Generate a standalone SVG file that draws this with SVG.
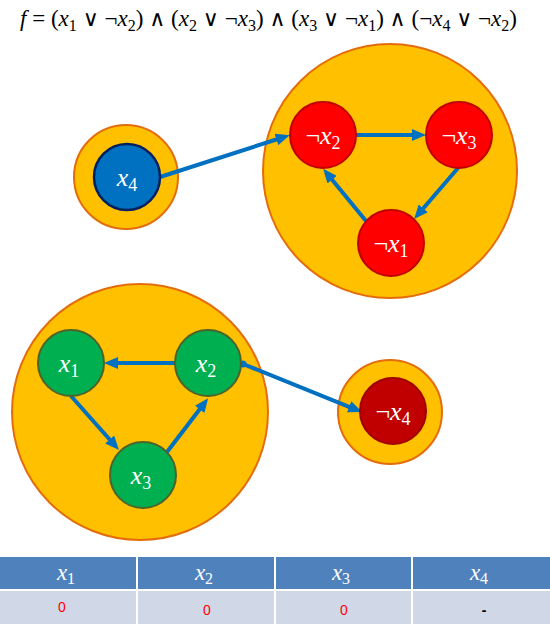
<svg xmlns="http://www.w3.org/2000/svg" width="550" height="632" viewBox="0 0 550 632">
<defs>
<style>
.t{font-family:"Liberation Serif","DejaVu Serif",serif;fill:#000}
.i{font-style:italic}
.lbl{font-family:"Liberation Serif","DejaVu Serif",serif;fill:#fff;font-size:26px;text-anchor:middle}
.comp{fill:#FFC000;stroke:#E46C0A;stroke-width:2}
.red{fill:#FF0000;stroke:#C00000;stroke-width:2}
.green{fill:#00B050;stroke:#4F6228;stroke-width:2}
.blue{fill:#0070C0;stroke:#002060;stroke-width:2.5}
.dred{fill:#C00000;stroke:#A00000;stroke-width:2}
.arr{stroke:#0070C0;stroke-width:4;fill:none;marker-end:url(#ah)}
.hd{fill:#4F81BD}
.rw{fill:#D0D8E8}
.hl{font-family:"Liberation Serif","DejaVu Serif",serif;fill:#fff;font-size:23px;text-anchor:middle;font-style:italic}
.v{font-family:"Liberation Sans","DejaVu Sans",sans-serif;font-size:14px;text-anchor:middle;fill:#FF0000}
.op{font-family:"DejaVu Serif",serif;font-size:22px}
</style>
<marker id="ah" markerUnits="userSpaceOnUse" markerWidth="14" markerHeight="12" refX="8" refY="6" orient="auto">
<path d="M0,0 L14,6 L0,12 z" fill="#0070C0"/>
</marker>
<marker id="dot" markerUnits="userSpaceOnUse" markerWidth="8" markerHeight="8" refX="4" refY="4" orient="auto">
<circle cx="4" cy="4" r="3.5" fill="#0070C0"/>
</marker>
</defs>

<text class="t" x="20" y="26" font-size="23" textLength="497" lengthAdjust="spacing"><tspan class="i">f</tspan> = (<tspan class="i">x</tspan><tspan font-size="16" dy="5">1</tspan><tspan dy="-5"> </tspan><tspan class="op">∨</tspan> ¬<tspan class="i">x</tspan><tspan font-size="16" dy="5">2</tspan><tspan dy="-5">) </tspan><tspan class="op">∧</tspan> (<tspan class="i">x</tspan><tspan font-size="16" dy="5">2</tspan><tspan dy="-5"> </tspan><tspan class="op">∨</tspan> ¬<tspan class="i">x</tspan><tspan font-size="16" dy="5">3</tspan><tspan dy="-5">) </tspan><tspan class="op">∧</tspan> (<tspan class="i">x</tspan><tspan font-size="16" dy="5">3</tspan><tspan dy="-5"> </tspan><tspan class="op">∨</tspan> ¬<tspan class="i">x</tspan><tspan font-size="16" dy="5">1</tspan><tspan dy="-5">) </tspan><tspan class="op">∧</tspan> (¬<tspan class="i">x</tspan><tspan font-size="16" dy="5">4</tspan><tspan dy="-5"> </tspan><tspan class="op">∨</tspan> ¬<tspan class="i">x</tspan><tspan font-size="16" dy="5">2</tspan><tspan dy="-5">)</tspan></text>

<g id="comp-x4"><circle class="comp" cx="126" cy="177" r="52"/></g>
<g id="comp-neg123"><circle class="comp" cx="390" cy="171" r="127"/></g>
<g id="comp-pos123"><circle class="comp" cx="140" cy="412" r="128"/></g>
<g id="comp-negx4"><circle class="comp" cx="390" cy="412" r="52"/></g>

<g id="connectors">
<line class="arr" x1="160" y1="177" x2="284" y2="137"/>
<line class="arr" x1="356" y1="135" x2="420" y2="135"/>
<line class="arr" x1="458" y1="168" x2="418" y2="214.5"/>
<line class="arr" x1="366" y1="221" x2="327" y2="173.5"/>
<line class="arr" x1="175" y1="363" x2="110" y2="363"/>
<line class="arr" x1="71" y1="396" x2="115" y2="445.5"/>
<line class="arr" x1="167" y1="452" x2="204.5" y2="403"/>
<line class="arr" x1="243" y1="364" x2="356.5" y2="409.8" marker-start="url(#dot)"/>
</g>

<g id="node-x4"><circle class="blue" cx="127" cy="177" r="33"/><text class="lbl" x="127" y="186"><tspan class="i">x</tspan><tspan font-size="18" dy="5">4</tspan></text></g>
<g id="node-negx2"><circle class="red" cx="323" cy="135" r="33"/><text class="lbl" x="323" y="144">¬<tspan class="i">x</tspan><tspan font-size="18" dy="5">2</tspan></text></g>
<g id="node-negx3"><circle class="red" cx="459" cy="135" r="33"/><text class="lbl" x="459" y="144">¬<tspan class="i">x</tspan><tspan font-size="18" dy="5">3</tspan></text></g>
<g id="node-negx1"><circle class="red" cx="391" cy="243" r="33"/><text class="lbl" x="391" y="252">¬<tspan class="i">x</tspan><tspan font-size="18" dy="5">1</tspan></text></g>
<g id="node-x1"><circle class="green" cx="71" cy="363" r="33"/><text class="lbl" x="69" y="372"><tspan class="i">x</tspan><tspan font-size="18" dy="5">1</tspan></text></g>
<g id="node-x2"><circle class="green" cx="208" cy="363" r="33"/><text class="lbl" x="206" y="372"><tspan class="i">x</tspan><tspan font-size="18" dy="5">2</tspan></text></g>
<g id="node-x3"><circle class="green" cx="143" cy="475" r="33"/><text class="lbl" x="141" y="484"><tspan class="i">x</tspan><tspan font-size="18" dy="5">3</tspan></text></g>
<g id="node-negx4"><circle class="dred" cx="393" cy="411" r="33"/><text class="lbl" x="393" y="420">¬<tspan class="i">x</tspan><tspan font-size="18" dy="5">4</tspan></text></g>

<g id="table">
<rect class="hd" x="0" y="557" width="136" height="32"/>
<rect class="hd" x="138" y="557" width="136" height="32"/>
<rect class="hd" x="276" y="557" width="135" height="32"/>
<rect class="hd" x="413" y="557" width="137" height="32"/>
<rect class="rw" x="0" y="591" width="136" height="33"/>
<rect class="rw" x="138" y="591" width="136" height="33"/>
<rect class="rw" x="276" y="591" width="135" height="33"/>
<rect class="rw" x="413" y="591" width="137" height="33"/>
<text class="hl" x="66" y="580">x<tspan font-size="16" dy="4" font-style="normal">1</tspan></text>
<text class="hl" x="204" y="580">x<tspan font-size="16" dy="4" font-style="normal">2</tspan></text>
<text class="hl" x="341" y="580">x<tspan font-size="16" dy="4" font-style="normal">3</tspan></text>
<text class="hl" x="479" y="580">x<tspan font-size="16" dy="4" font-style="normal">4</tspan></text>
<text class="v" x="62" y="612">0</text>
<text class="v" x="207" y="615">0</text>
<text class="v" x="344" y="615">0</text>
<text class="v" x="484" y="615" style="fill:#000;font-weight:bold">-</text>
</g>
</svg>
